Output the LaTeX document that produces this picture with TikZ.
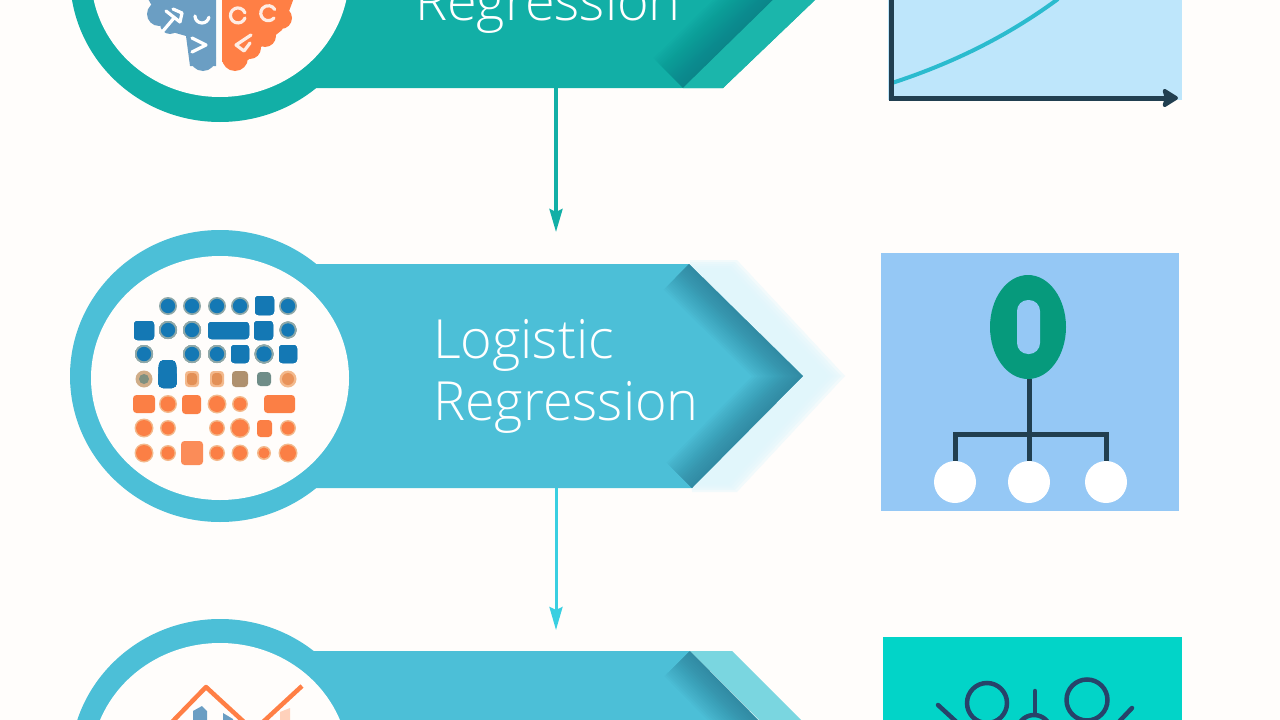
\documentclass[tikz,border=0pt]{standalone}
\usepackage{fontspec}
\setmainfont{Open Sans}[UprightFont=* Light]
\usetikzlibrary{arrows.meta}
\definecolor{bgc}{HTML}{FFFDFB}
\definecolor{teal1}{HTML}{12AFA6}
\definecolor{teal1f}{HTML}{1BB6AB}
\definecolor{teal1d}{HTML}{0B6F7C}
\definecolor{blue2}{HTML}{4CBFD7}
\definecolor{blue2d}{HTML}{1F5F78}
\definecolor{pale}{HTML}{E0F6FD}
\definecolor{foldc}{HTML}{7AD6E0}
\definecolor{brainb}{HTML}{6B9EC3}
\definecolor{braino}{HTML}{FF7F45}
\definecolor{dotb}{HTML}{1478B4}
\definecolor{doto}{HTML}{FB7F45}
\definecolor{dotm}{HTML}{E9935A}
\definecolor{dotg}{HTML}{7F9080}
\definecolor{haloa}{HTML}{8FA8A8}
\definecolor{halob}{HTML}{F3B98C}
\definecolor{inkc}{HTML}{213F50}
\definecolor{curvec}{HTML}{2BBBCE}
\definecolor{panela}{HTML}{BEE6FB}
\definecolor{panelb}{HTML}{95C8F5}
\definecolor{panelc}{HTML}{02D4C8}
\definecolor{ogreen}{HTML}{069A7C}
\definecolor{inkn}{HTML}{27436A}
\tikzset{
  title/.style={anchor=base west,inner sep=0pt,text=white,font=\fontsize{54}{62}\selectfont},
  ringa/.style={fill=teal1},
  ringb/.style={fill=blue2},
  inner/.style={fill=bgc},
  flow/.style={line width=3.5pt,-{Stealth[length=23pt,width=13pt,inset=3pt]}},
  glyph/.style={draw=#1,line width=3.2pt,line cap=round,line join=round,fill=none},
  tree/.style={draw=inkc,line width=5pt},
  netl/.style={draw=inkn,line width=4.5pt,line cap=round},
  leaf/.style={circle,fill=white,minimum size=42pt,inner sep=0pt},
}
% round dot with a pale rim: x, y, radius
\newcommand{\gblue}[3]{\fill[haloa] (#1,#2) circle[radius=#3];\fill[dotb] (#1,#2) circle[radius=#3-1.8];}
\newcommand{\gorange}[3]{\fill[halob] (#1,#2) circle[radius=#3];\fill[doto] (#1,#2) circle[radius=#3-1.5];}
% rounded block: colour, x0, y0, x1, y1
\newcommand{\gblock}[5]{\fill[#1,rounded corners=3.5pt] (#2,#3) rectangle (#4,#5);}
\begin{document}
\begin{tikzpicture}[x=1pt,y=-1pt]
\useasboundingbox (0,0) rectangle (1280,720);
\fill[bgc] (0,0) rectangle (1280,720);

% ---------- banner 1
\fill[teal1] (220,-40) -- (860,-40) -- (815,0) -- (723,88) -- (220,88) -- cycle;
\begin{scope}
  \clip (220,-40) -- (815,-40) -- (773,0) -- (683,88) -- (220,88) -- cycle;
  \foreach \w in {4,8,...,84}
    \draw[teal1d,opacity=.035,line width=\w pt] (683,88) -- (773,0) -- (815,-40);
\end{scope}
\fill[teal1f] (683,88) -- (773,0) -- (815,0) -- (723,88) -- cycle;
\fill[ringa] (220,-24) ellipse[x radius=150,y radius=146];
\fill[inner] (220,-25) ellipse[x radius=129,y radius=122];
\coordinate (b1out) at (556,88);
\coordinate (b2in) at (556,232);
\node[title] (t1) at (415,20) {Regression};

% brain
\begin{scope}
  \clip (130,-5) rectangle (216,80);
  \fill[brainb] (146,-5) -- (216,-5) -- (216,66) -- (190,66) -- (186,36) -- (165,30) -- cycle;
  \fill[brainb] (159,14) circle[radius=12];
  \fill[brainb] (170,24) circle[radius=10];
  \fill[brainb] (203,58) circle[radius=13];
\end{scope}
\begin{scope}
  \clip (222,-5) rectangle (310,80);
  \fill[braino] (222,-5) -- (295,-5) -- (282,30) -- (262,46) -- (248,60) -- (222,62) -- cycle;
  \fill[braino] (235,58) circle[radius=13];
  \fill[braino] (250,48) circle[radius=11];
  \fill[braino] (265,36) circle[radius=11];
  \fill[braino] (281,18) circle[radius=11];
\end{scope}
\draw[glyph=white] (195,16) arc[start angle=180,end angle=10,radius=7];
\draw[glyph=white] (166,11) -- (180,22) (174,18) -- (163,31) (173,9) -- (182,13) -- (180,22);
\draw[glyph=white] (192,38) -- (206,45) -- (192,52);
\draw[glyph=white!85!braino] (245,18) arc[start angle=20,end angle=340,radius=7.5];
\draw[glyph=white!85!braino] (274,18) arc[start angle=40,end angle=330,radius=7.5];
\draw[glyph=white!85!braino] (251,35) -- (236,45) -- (244,51) -- (250,43);

% connector 1
\draw[flow,teal1] (b1out) -- (b2in);

% panel 1
\fill[panela] (888,0) rectangle (1182,100);
\draw[curvec,line width=4pt] (892,83) .. controls (950,64) and (1005,38) .. (1058,-1);
\coordinate (ax0) at (891,98);
\coordinate (ax1) at (1178,98);
\coordinate (ay1) at (891,-2);
\draw[inkc,line width=5pt,-{Stealth[length=18pt,width=22pt,inset=3pt,round]}] (ay1) -- (ax0) -- (ax1);

% ---------- banner 2
\foreach \d in {8,4,0,-4,-8}
  \fill[pale,opacity=.4] (690,264-\d/2) -- (733+\d/2,264-\d/2) -- (837+\d,376) -- (733+\d/2,488+\d/2) -- (692,488+\d/2) -- cycle;
\fill[blue2] (220,264) -- (689,264) -- (803,376) -- (692,488) -- (220,488) -- cycle;
\begin{scope}
  \clip (220,264) -- (689,264) -- (803,376) -- (692,488) -- (220,488) -- cycle;
  \foreach \w in {4,8,...,72}
    \draw[blue2d,opacity=.035,line width=\w pt] (689,264) -- (803,376) -- (692,488);
\end{scope}
\fill[ringb] (220,376) ellipse[x radius=150,y radius=146];
\fill[inner] (220,378) ellipse[x radius=129,y radius=122];
\node[title] (t2a) at (433,358) {Logistic};
\node[title] (t2b) at (433,420) {Regression};
\coordinate (b2out) at (556,488);
\coordinate (b3in) at (556,630);

% dot grid: blue rows
\foreach \px in {168,192,217,240,288} \gblue{\px}{306}{9}
\gblock{dotb}{255}{296}{274}{315}
\gblock{dotb}{134}{321}{154}{340}
\gblue{168}{330}{9}
\gblue{192}{330}{9}
\gblock{dotb}{208}{322}{249}{339}
\gblock{dotb}{254}{321}{273}{340}
\gblue{288}{330}{8.5}
\gblue{144}{354}{9}
\gblue{192}{354}{9}
\gblue{217}{354}{9}
\gblock{dotb}{231}{345}{249}{363}
\gblue{264}{354}{9.5}
\gblock{dotb}{279}{345}{297}{363}
\fill[dotb,rounded corners=5pt] (159,360) -- (176,360) -- (177,388) -- (158,388) -- cycle;
% dot grid: mixed row
\fill[halob!70!dotg] (144,379) circle[radius=8.5];
\fill[dotg] (144,379) circle[radius=5];
\gblock{halob}{185}{371}{199}{387}
\gblock{dotm!85!brown}{187}{373}{197}{385}
\gblock{halob}{210}{371}{224}{387}
\gblock{dotm!85!brown}{212}{373}{222}{385}
\gblock{dotg!55!dotm}{232}{371}{248}{387}
\gblock{dotg!85!dotb}{257}{372}{271}{386}
\fill[halob] (288,379) circle[radius=8.5];
\fill[dotm] (288,379) circle[radius=6];
% dot grid: orange rows
\gblock{doto}{133}{395}{155}{413}
\gorange{168}{404}{9}
\gblock{doto}{182}{395}{201}{414}
\gorange{217}{404}{9.5}
\gorange{240}{404}{8}
\gblock{doto}{264}{395}{295}{413}
\gorange{144}{428}{9.5}
\gorange{168}{428}{8}
\gorange{217}{428}{8}
\gorange{240}{428}{10}
\gblock{doto}{257}{420}{272}{437}
\gorange{288}{428}{8}
\gorange{144}{453}{9.5}
\gorange{168}{453}{8}
\gblock{doto!90!white}{181}{441}{203}{465}
\gorange{217}{453}{8}
\gorange{240}{453}{8.5}
\gorange{264}{453}{7}
\gorange{288}{453}{9.5}

% connector 2
\draw[flow,blue2!75!cyan,line width=3pt] (b2out) -- (b3in);

% panel 2
\fill[panelb] (881,253) rectangle (1179,511);
\fill[ogreen] (1028,327) ellipse[x radius=38,y radius=52];
\fill[panelb,rounded corners=11pt] (1017,300) rectangle (1040,354);
\node[leaf] (leafa) at (955,482) {};
\node[leaf] (leafb) at (1029,482) {};
\node[leaf] (leafc) at (1106,482) {};
\coordinate (rootb) at (1029,379);
\draw[tree] (rootb) -- (leafb.north);
\draw[tree] (leafa.north) -- (955,434) -- (1106,434) -- (leafc.north);

% ---------- banner 3
\fill[foldc] (690,651) -- (732,651) -- (812,731) -- (770,731) -- cycle;
\fill[blue2] (220,651) -- (690,651) -- (769,731) -- (220,731) -- cycle;
\begin{scope}
  \clip (220,651) -- (690,651) -- (769,731) -- (220,731) -- cycle;
  \foreach \w in {4,8,...,72}
    \draw[blue2d,opacity=.035,line width=\w pt] (690,651) -- (769,731);
\end{scope}
\fill[ringb] (220,765) ellipse[x radius=150,y radius=146];
\fill[inner] (220,765) ellipse[x radius=129,y radius=122];

% house icon
\fill[brainb] (193,722) -- (193,711) -- (202,706) -- (207,711) -- (207,722) -- cycle;
\fill[brainb] (223,722) -- (223,713) -- (233,719) -- (233,722) -- cycle;
\fill[braino!35!bgc] (280,722) -- (280,712) -- (290,708) -- (290,722) -- cycle;
\draw[braino,line width=4.5pt,line join=round] (172,722) -- (206,687) -- (244,722);
\draw[braino,line width=4.5pt] (263,722) -- (302,686);

% panel 3
\fill[panelc] (883,637) rectangle (1182,722);
\draw[netl] (987,703) circle[radius=20];
\draw[netl] (1087,700) circle[radius=20.5];
\draw[netl] (1034,732) circle[radius=17];
\draw[netl] (1035,691) -- (1035,714);
\draw[netl] (938,705) -- (962,727);
\draw[netl] (1132,708) -- (1114,727);
\end{tikzpicture}
\end{document}
